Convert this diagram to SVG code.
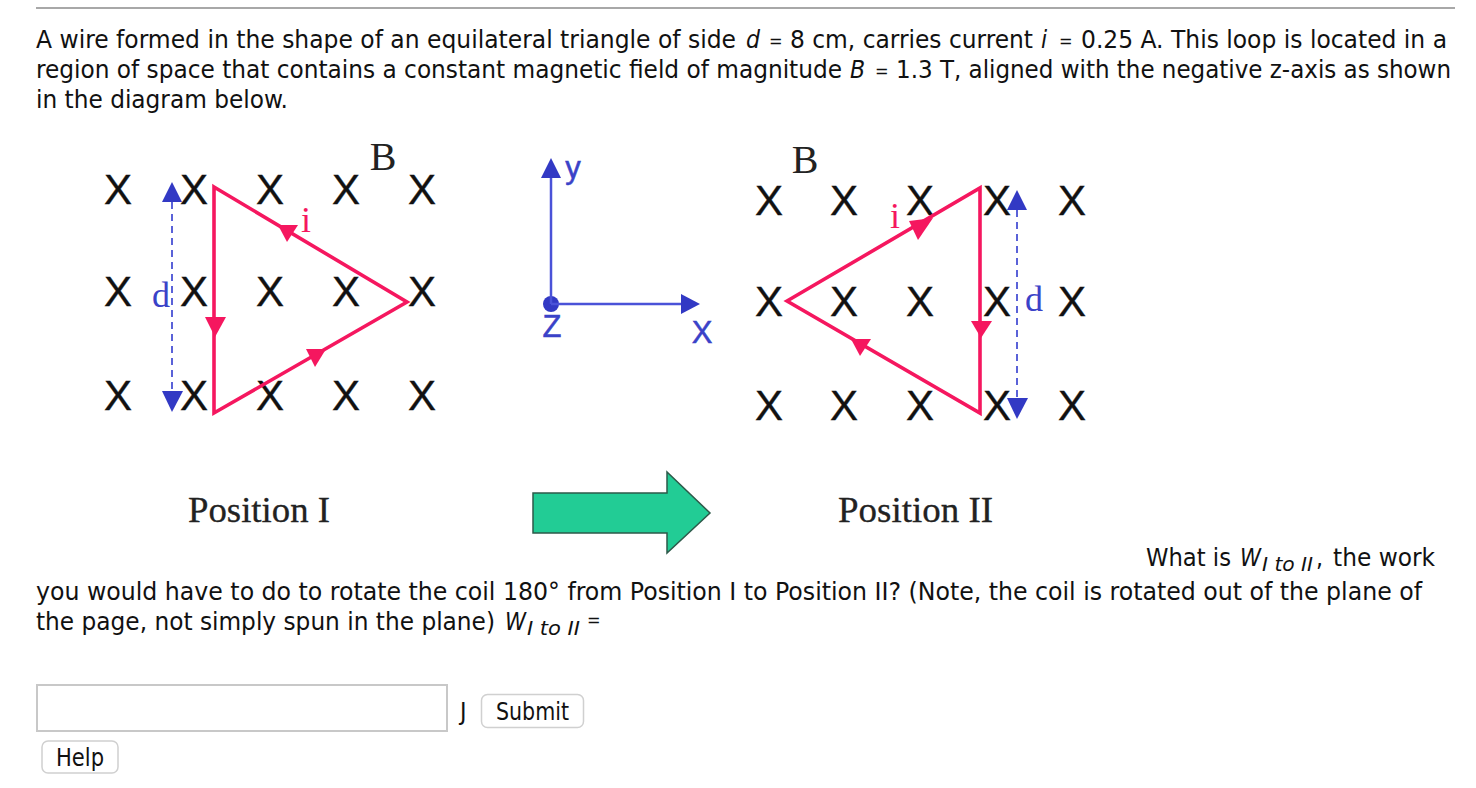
<svg xmlns="http://www.w3.org/2000/svg" width="1476" height="788" viewBox="0 0 1476 788">
<style>
.t{font-family:"DejaVu Sans Condensed","DejaVu Sans",Verdana,sans-serif;font-size:24.5px;fill:#111}
.e{font-style:italic}
.s{font-style:italic;font-size:20px}
.q{font-size:18px}
.x{font-family:"Liberation Sans",Arial,sans-serif;font-size:42px;fill:#111;stroke:#111;stroke-width:.4;text-anchor:middle}
.b{font-family:"Liberation Serif","Times New Roman",serif;font-size:40px;fill:#222;text-anchor:middle}
.bd{font-family:"Liberation Serif","Times New Roman",serif;font-size:36px;fill:#3a42c8;text-anchor:middle}
.bi{font-family:"Liberation Serif","Times New Roman",serif;font-size:36px;fill:#f5175f;text-anchor:middle}
.p{font-family:"Liberation Serif","Times New Roman",serif;font-size:36.8px;fill:#222;stroke:#222;stroke-width:.3}
.a{font-family:"Liberation Sans",Arial,sans-serif;font-size:31px;fill:#3a42c8;stroke:#3a42c8;stroke-width:.5;text-anchor:middle}
.w{fill:none;stroke:#f5175f;stroke-width:3.6}
.ah{fill:#f5175f}
.bl{fill:#3239c4}
.ax{stroke:#4a52d8;stroke-width:2.5;fill:none}
.d{stroke:#5a62d8;stroke-width:2;stroke-dasharray:7 5;fill:none}
.btn{fill:#fff;stroke:#d0d0d0;stroke-width:1.5}
</style>
<rect width="1476" height="788" fill="#fff"/>
<line x1="36" y1="8" x2="1455" y2="8" stroke="#a8a8a8" stroke-width="2"/>
<g id="question-top">
<text class="t" x="36" y="48" textLength="700" lengthAdjust="spacingAndGlyphs">A wire formed in the shape of an equilateral triangle of side</text>
<text class="t e" x="746" y="48">d</text>
<text class="t q" x="769" y="47">=</text>
<text class="t" x="790" y="48" textLength="243" lengthAdjust="spacingAndGlyphs">8 cm, carries current</text>
<text class="t e" x="1041" y="48">i</text>
<text class="t q" x="1059" y="47">=</text>
<text class="t" x="1081" y="48" textLength="366" lengthAdjust="spacingAndGlyphs">0.25 A. This loop is located in a</text>
<text class="t" x="36" y="78" textLength="806" lengthAdjust="spacingAndGlyphs">region of space that contains a constant magnetic field of magnitude</text>
<text class="t e" x="850" y="78">B</text>
<text class="t q" x="875" y="77">=</text>
<text class="t" x="896" y="78" textLength="555" lengthAdjust="spacingAndGlyphs">1.3 T, aligned with the negative z-axis as shown</text>
<text class="t" x="36" y="108" textLength="252" lengthAdjust="spacingAndGlyphs">in the diagram below.</text>
</g>
<g id="field-position-1">
<text class="x" x="118" y="204">X</text><text class="x" x="194" y="204">X</text><text class="x" x="270" y="204">X</text><text class="x" x="346" y="204">X</text><text class="x" x="422" y="204">X</text>
<text class="x" x="118" y="306">X</text><text class="x" x="194" y="306">X</text><text class="x" x="270" y="306">X</text><text class="x" x="346" y="306">X</text><text class="x" x="422" y="306">X</text>
<text class="x" x="118" y="410">X</text><text class="x" x="194" y="410">X</text><text class="x" x="270" y="410">X</text><text class="x" x="346" y="410">X</text><text class="x" x="422" y="410">X</text>
<text class="b" x="383" y="170">B</text>
<text class="bd" x="161" y="307">d</text>
<text class="bi" x="306" y="232">i</text>
</g>
<g id="field-position-2">
<text class="x" x="769" y="215">X</text><text class="x" x="844" y="215">X</text><text class="x" x="920" y="215">X</text><text class="x" x="997" y="215">X</text><text class="x" x="1072" y="215">X</text>
<text class="x" x="769" y="316">X</text><text class="x" x="844" y="316">X</text><text class="x" x="920" y="316">X</text><text class="x" x="997" y="316">X</text><text class="x" x="1072" y="316">X</text>
<text class="x" x="769" y="420">X</text><text class="x" x="844" y="420">X</text><text class="x" x="920" y="420">X</text><text class="x" x="997" y="420">X</text><text class="x" x="1072" y="420">X</text>
<text class="b" x="805" y="173">B</text>
<text class="bd" x="1034" y="311">d</text>
<text class="bi" x="895" y="228">i</text>
</g>
<g id="axes">
<circle cx="551" cy="304" r="8" class="bl"/>
<text class="a" x="552" y="337">Z</text>
<text class="a" x="702" y="343">X</text>
<text class="a" x="573" y="178">y</text>
</g>
<g id="connectors">
<path class="w" d="M214 187L407 302L214 413Z"/>
<path class="ah" d="M278 225L298 225L287 242Z"/>
<path class="ah" d="M205 317L226 317L215 337Z"/>
<path class="ah" d="M306 349L326 349L315 367Z"/>
<path class="w" d="M787 301L980 188L980 413Z"/>
<path class="ah" d="M909 221L933 218L918 240Z"/>
<path class="ah" d="M971 321L992 321L981 338Z"/>
<path class="ah" d="M851 339L871 339L860 356Z"/>
<line class="d" x1="172" y1="202" x2="172" y2="392"/>
<path class="bl" d="M172 182L182 202L162 202Z"/><path class="bl" d="M172 412L162 391L183 391Z"/>
<line class="d" x1="1017" y1="210" x2="1017" y2="398"/>
<path class="bl" d="M1017 190L1027 210L1007 210Z"/><path class="bl" d="M1017 419L1007 398L1028 398Z"/>
<line class="ax" x1="551" y1="176" x2="551" y2="304"/>
<path class="bl" d="M551 158L561 178L541 178Z"/>
<line class="ax" x1="551" y1="304" x2="682" y2="304"/>
<path class="bl" d="M700 304L681 294L681 314Z"/>
</g>
<g id="position-1-label"><text class="p" x="188" y="522" textLength="142" lengthAdjust="spacingAndGlyphs">Position I</text></g>
<g id="transition-arrow"><path d="M533 493L667 493L667 472L710 513L667 553L667 533L533 533Z" fill="#22cc95" stroke="#2d5a4a" stroke-width="1.5"/></g>
<g id="position-2-label"><text class="p" x="838" y="522" textLength="155" lengthAdjust="spacingAndGlyphs">Position II</text></g>
<g id="question-bottom">
<text class="t" x="1146" y="566" textLength="85" lengthAdjust="spacingAndGlyphs">What is</text>
<text class="t e" x="1240" y="566" textLength="21" lengthAdjust="spacingAndGlyphs">W</text>
<text class="t s" x="1262" y="571" textLength="51" lengthAdjust="spacingAndGlyphs">I to II</text>
<text class="t" x="1316" y="566">,</text>
<text class="t" x="1333" y="566" textLength="102" lengthAdjust="spacingAndGlyphs">the work</text>
<text class="t" x="36" y="600" textLength="1386" lengthAdjust="spacingAndGlyphs">you would have to do to rotate the coil 180° from Position I to Position II? (Note, the coil is rotated out of the plane of</text>
<text class="t" x="36" y="630" textLength="459" lengthAdjust="spacingAndGlyphs">the page, not simply spun in the plane)</text>
<text class="t e" x="505" y="630" textLength="21" lengthAdjust="spacingAndGlyphs">W</text>
<text class="t s" x="527" y="635" textLength="53" lengthAdjust="spacingAndGlyphs">I to II</text>
<text class="t q" x="587" y="626">=</text>
</g>
<g id="answer-input"><rect x="37" y="685" width="410" height="46" fill="#fff" stroke="#c8c8c8" stroke-width="2"/>
<text class="t" x="460" y="720">J</text></g>
<g id="submit-button"><rect class="btn" x="481.500" y="694.500" width="102" height="33" rx="6"/>
<text class="t" x="496" y="720" textLength="73" lengthAdjust="spacingAndGlyphs">Submit</text></g>
<g id="help-button"><rect class="btn" x="42" y="741" width="76" height="32" rx="6"/>
<text class="t" x="56" y="766" textLength="48" lengthAdjust="spacingAndGlyphs">Help</text></g>
</svg>
